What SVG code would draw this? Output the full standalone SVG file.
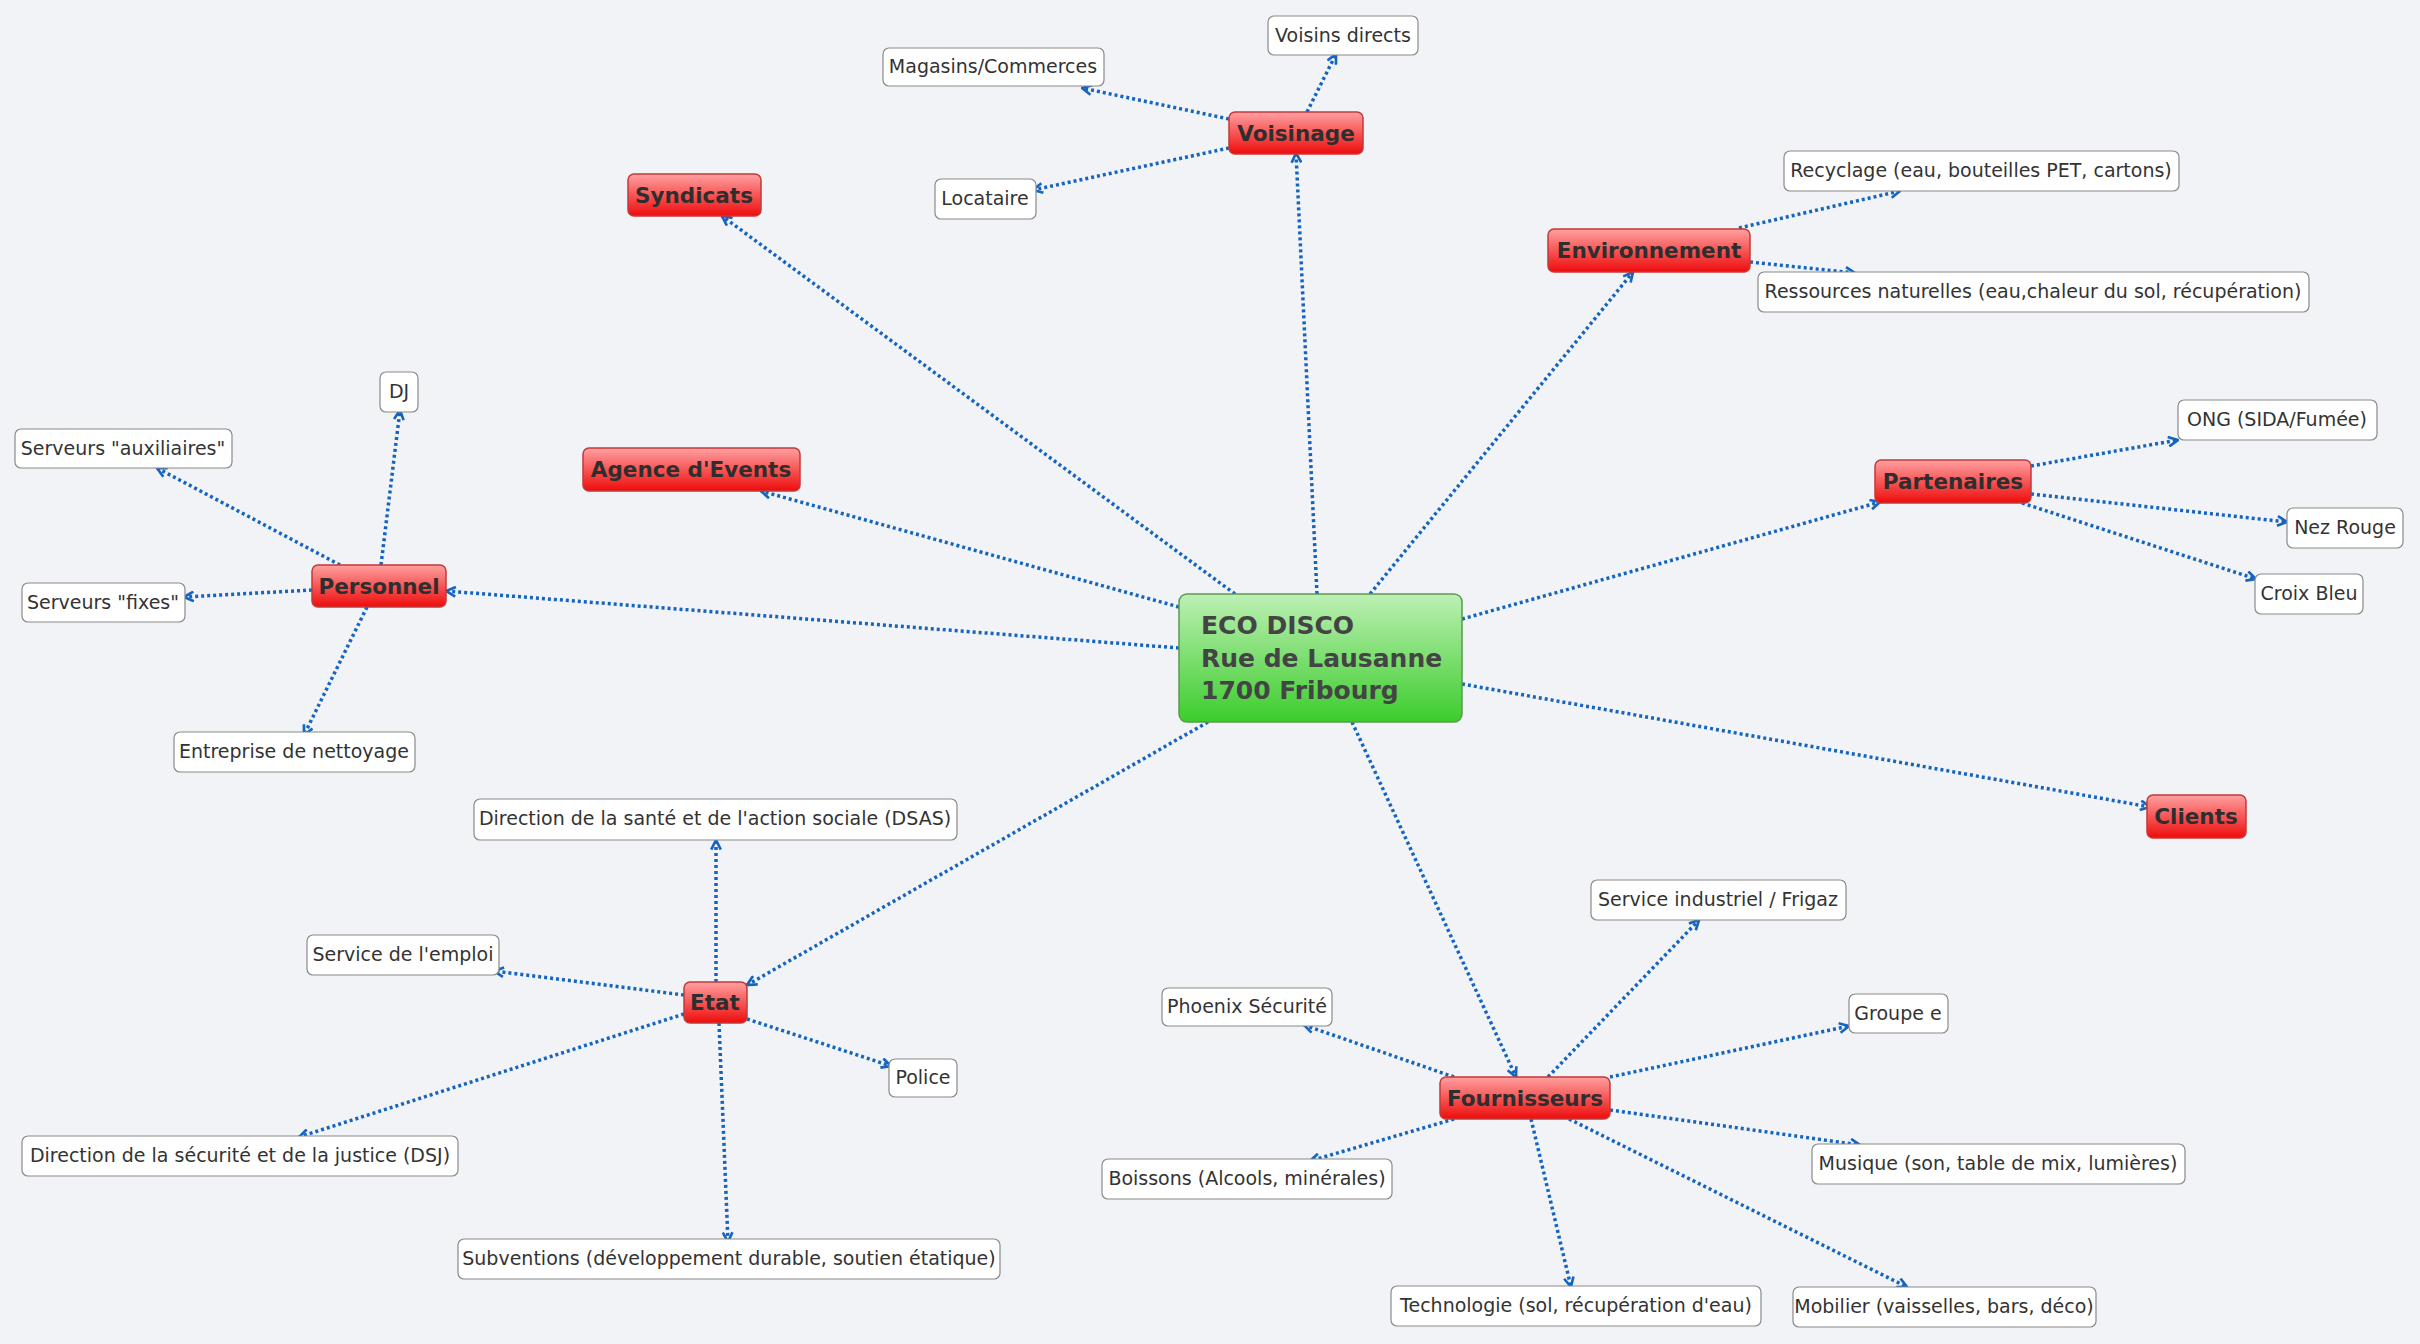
<svg xmlns="http://www.w3.org/2000/svg" width="2420" height="1344" viewBox="0 0 2420 1344">
<style>
.c{fill:none;stroke:#1565c0;stroke-width:3.5;stroke-dasharray:3 3;marker-end:url(#a)}
.r{fill:url(#gr);stroke:#c23a3a;stroke-width:1.5}
.w{fill:#fff;stroke:#8a8a8a;stroke-width:1.2}
.rt{font-family:"DejaVu Sans",Verdana,sans-serif;font-weight:bold;font-size:21.5px;fill:#2e2e2e;text-anchor:middle}
.wt{font-family:"DejaVu Sans",Verdana,sans-serif;font-size:19px;fill:#333;text-anchor:middle}
.mt{font-family:"DejaVu Sans",Verdana,sans-serif;font-weight:bold;font-size:25px;fill:#444}
</style>
<defs>
<linearGradient id="gr" x1="0" y1="0" x2="0" y2="1"><stop offset="0" stop-color="#ffa0a0"/><stop offset="1" stop-color="#ee0c0c"/></linearGradient>
<linearGradient id="gg" x1="0" y1="0" x2="0" y2="1"><stop offset="0" stop-color="#bdf0b4"/><stop offset="1" stop-color="#3ccc2c"/></linearGradient>
<marker id="a" viewBox="0 0 10 10" refX="9" refY="5" markerWidth="12" markerHeight="12" markerUnits="userSpaceOnUse" orient="auto"><path d="M1,1 L9,5 L1,9" fill="none" stroke="#1565c0" stroke-width="2.2"/></marker>
</defs>
<rect width="2420" height="1344" fill="#f1f3f6"/>
<g id="connectors">
<path class="c" d="M1235,594 L722,216"/>
<path class="c" d="M1317,594 L1296,153"/>
<path class="c" d="M1370,594 L1633,272"/>
<path class="c" d="M1179,607 L761,491"/>
<path class="c" d="M1462,619 L1880,502"/>
<path class="c" d="M1179,648 L446,591"/>
<path class="c" d="M1462,684 L2150,807"/>
<path class="c" d="M1208,722 L747,985"/>
<path class="c" d="M1352,722 L1516,1077"/>
<path class="c" d="M1307,112 L1336,54"/>
<path class="c" d="M1229,119 L1082,88"/>
<path class="c" d="M1229,148 L1033,190"/>
<path class="c" d="M1739,228 L1900,191"/>
<path class="c" d="M1750,262 L1855,273"/>
<path class="c" d="M2031,466 L2178,440"/>
<path class="c" d="M2031,494 L2287,522"/>
<path class="c" d="M2022,503 L2256,579"/>
<path class="c" d="M381,565 L400,410"/>
<path class="c" d="M340,565 L157,468"/>
<path class="c" d="M312,590 L184,597"/>
<path class="c" d="M367,607 L304,735"/>
<path class="c" d="M716,982 L716,840"/>
<path class="c" d="M684,995 L494,971"/>
<path class="c" d="M747,1019 L891,1066"/>
<path class="c" d="M684,1014 L299,1137"/>
<path class="c" d="M719,1023 L728,1242"/>
<path class="c" d="M1548,1077 L1699,920"/>
<path class="c" d="M1454,1077 L1304,1025"/>
<path class="c" d="M1610,1077 L1849,1026"/>
<path class="c" d="M1454,1119 L1310,1161"/>
<path class="c" d="M1610,1110 L1860,1145"/>
<path class="c" d="M1531,1119 L1571,1287"/>
<path class="c" d="M1569,1119 L1907,1287"/>
</g>
<g id="center"><rect x="1179" y="594" width="283" height="128" rx="8" fill="url(#gg)" stroke="#5a9a50" stroke-width="1.5"/>
<text class="mt" x="1201" y="634">ECO DISCO</text><text class="mt" x="1201" y="667">Rue de Lausanne</text><text class="mt" x="1201" y="699">1700 Fribourg</text></g>
<g id="voisinage"><rect class="r" x="1229" y="112" width="134" height="42" rx="6"/><text class="rt" x="1296" y="141">Voisinage</text></g>
<g id="syndicats"><rect class="r" x="628" y="174" width="133" height="42" rx="6"/><text class="rt" x="694" y="203">Syndicats</text></g>
<g id="environnement"><rect class="r" x="1548" y="229" width="202" height="43" rx="6"/><text class="rt" x="1649" y="258">Environnement</text></g>
<g id="agence"><rect class="r" x="583" y="448" width="217" height="43" rx="6"/><text class="rt" x="691" y="477">Agence d'Events</text></g>
<g id="partenaires"><rect class="r" x="1875" y="460" width="156" height="43" rx="6"/><text class="rt" x="1953" y="489">Partenaires</text></g>
<g id="personnel"><rect class="r" x="312" y="565" width="134" height="42" rx="6"/><text class="rt" x="379" y="594">Personnel</text></g>
<g id="clients"><rect class="r" x="2147" y="795" width="99" height="43" rx="6"/><text class="rt" x="2196" y="824">Clients</text></g>
<g id="etat"><rect class="r" x="684" y="982" width="63" height="41" rx="6"/><text class="rt" x="715" y="1010">Etat</text></g>
<g id="fournisseurs"><rect class="r" x="1440" y="1077" width="170" height="42" rx="6"/><text class="rt" x="1525" y="1106">Fournisseurs</text></g>
<g id="voisins-directs"><rect class="w" x="1268" y="16" width="150" height="39" rx="6"/><text class="wt" x="1343" y="42">Voisins directs</text></g>
<g id="magasins"><rect class="w" x="883" y="48" width="221" height="38" rx="6"/><text class="wt" x="993" y="73">Magasins/Commerces</text></g>
<g id="locataire"><rect class="w" x="935" y="179" width="101" height="40" rx="6"/><text class="wt" x="985" y="205">Locataire</text></g>
<g id="recyclage"><rect class="w" x="1784" y="151" width="395" height="40" rx="6"/><text class="wt" x="1981" y="177">Recyclage (eau, bouteilles PET, cartons)</text></g>
<g id="ressources"><rect class="w" x="1758" y="272" width="551" height="40" rx="6"/><text class="wt" x="2033" y="298">Ressources naturelles (eau,chaleur du sol, récupération)</text></g>
<g id="ong"><rect class="w" x="2178" y="400" width="199" height="40" rx="6"/><text class="wt" x="2277" y="426">ONG (SIDA/Fumée)</text></g>
<g id="nez-rouge"><rect class="w" x="2287" y="508" width="116" height="40" rx="6"/><text class="wt" x="2345" y="534">Nez Rouge</text></g>
<g id="croix-bleu"><rect class="w" x="2255" y="574" width="108" height="40" rx="6"/><text class="wt" x="2309" y="600">Croix Bleu</text></g>
<g id="dj"><rect class="w" x="380" y="372" width="38" height="40" rx="6"/><text class="wt" x="399" y="398">DJ</text></g>
<g id="serveurs-aux"><rect class="w" x="15" y="429" width="217" height="39" rx="6"/><text class="wt" x="123" y="455">Serveurs "auxiliaires"</text></g>
<g id="serveurs-fixes"><rect class="w" x="22" y="583" width="163" height="39" rx="6"/><text class="wt" x="103" y="609">Serveurs "fixes"</text></g>
<g id="nettoyage"><rect class="w" x="174" y="732" width="241" height="40" rx="6"/><text class="wt" x="294" y="758">Entreprise de nettoyage</text></g>
<g id="dsas"><rect class="w" x="474" y="799" width="483" height="41" rx="6"/><text class="wt" x="715" y="825">Direction de la santé et de l'action sociale (DSAS)</text></g>
<g id="emploi"><rect class="w" x="307" y="935" width="192" height="40" rx="6"/><text class="wt" x="403" y="961">Service de l'emploi</text></g>
<g id="police"><rect class="w" x="889" y="1059" width="68" height="38" rx="6"/><text class="wt" x="923" y="1084">Police</text></g>
<g id="dsj"><rect class="w" x="22" y="1136" width="436" height="40" rx="6"/><text class="wt" x="240" y="1162">Direction de la sécurité et de la justice (DSJ)</text></g>
<g id="subventions"><rect class="w" x="458" y="1239" width="542" height="40" rx="6"/><text class="wt" x="729" y="1265">Subventions (développement durable, soutien étatique)</text></g>
<g id="frigaz"><rect class="w" x="1591" y="880" width="255" height="40" rx="6"/><text class="wt" x="1718" y="906">Service industriel / Frigaz</text></g>
<g id="phoenix"><rect class="w" x="1162" y="988" width="170" height="38" rx="6"/><text class="wt" x="1247" y="1013">Phoenix Sécurité</text></g>
<g id="groupe-e"><rect class="w" x="1849" y="994" width="99" height="39" rx="6"/><text class="wt" x="1898" y="1020">Groupe e</text></g>
<g id="boissons"><rect class="w" x="1102" y="1159" width="290" height="40" rx="6"/><text class="wt" x="1247" y="1185">Boissons (Alcools, minérales)</text></g>
<g id="musique"><rect class="w" x="1812" y="1144" width="373" height="40" rx="6"/><text class="wt" x="1998" y="1170">Musique (son, table de mix, lumières)</text></g>
<g id="technologie"><rect class="w" x="1391" y="1286" width="370" height="40" rx="6"/><text class="wt" x="1576" y="1312">Technologie (sol, récupération d'eau)</text></g>
<g id="mobilier"><rect class="w" x="1793" y="1287" width="303" height="40" rx="6"/><text class="wt" x="1944" y="1313">Mobilier (vaisselles, bars, déco)</text></g>
</svg>
